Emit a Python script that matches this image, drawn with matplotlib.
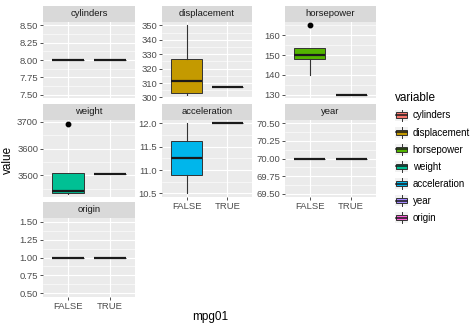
import numpy as np
import matplotlib.pyplot as plt
from matplotlib.patches import Rectangle, Patch
from matplotlib.lines import Line2D
from matplotlib.ticker import FixedLocator, AutoMinorLocator, ScalarFormatter
from matplotlib.legend_handler import HandlerBase

plt.rcParams['font.family'] = ['Liberation Sans', 'DejaVu Sans']

W, H = 474, 328

variables = ['cylinders', 'displacement', 'horsepower', 'weight',
             'acceleration', 'year', 'origin']
colors = ['#F8766D', '#C49A00', '#53B400', '#00C094', '#00B6EB', '#A58AFF', '#FB61D7']
groups = ['FALSE', 'TRUE']

# box stats for mpg01 == FALSE
false_low = [8, 302, 140, 3433, 10.5, 70, 1]
false_q1 = [8, 303.3, 148, 3436, 10.89, 70, 1]
false_med = [8, 311.5, 150, 3443, 11.25, 70, 1]
false_q3 = [8, 326.8, 153.6, 3511, 11.62, 70, 1]
false_high = [8, 350, 153.6, 3511, 12.0, 70, 1]
false_out = [[], [], [165], [3693], [], [], []]
# mpg01 == TRUE is a single car
true_val = [8, 307.3, 130, 3504, 12.0, 70, 1]

yticks = [[7.5, 7.75, 8, 8.25, 8.5],
          [300, 310, 320, 330, 340, 350],
          [130, 140, 150, 160],
          [3500, 3600, 3700],
          [10.5, 11, 11.5, 12],
          [69.5, 69.75, 70, 70.25, 70.5],
          [0.5, 0.75, 1, 1.25, 1.5]]

# panel layout in pixels
col_lr = [(43, 135), (162, 252), (285, 376)]
row_tb = [(22, 98), (120, 197), (218, 297)]
strip_h = 16
bottom_panels = [4, 5, 6]

fig = plt.figure(figsize=(W / 100, H / 100), dpi=100)

for i, var in enumerate(variables):
    r, c = divmod(i, 3)
    l, rr = col_lr[c]
    t, b = row_tb[r]
    ax = fig.add_axes([l / W, 1 - b / H, (rr - l) / W, (b - t) / H])
    ax.set_facecolor('#EBEBEB')
    for s in ax.spines.values():
        s.set_visible(False)

    stats = [dict(whislo=false_low[i], q1=false_q1[i], med=false_med[i],
                  q3=false_q3[i], whishi=false_high[i], fliers=false_out[i]),
             dict(whislo=true_val[i], q1=true_val[i], med=true_val[i],
                  q3=true_val[i], whishi=true_val[i], fliers=[])]
    ax.bxp(stats, positions=[1, 2], widths=0.75, patch_artist=True,
           showcaps=False, manage_ticks=False,
           boxprops=dict(facecolor=colors[i], edgecolor='#333333', lw=0.7),
           medianprops=dict(color='#1A1A1A', lw=1.6, solid_capstyle='butt'),
           whiskerprops=dict(color='#333333', lw=0.8),
           flierprops=dict(marker='o', markersize=3.2, markerfacecolor='black',
                           markeredgecolor='black'))

    vals = [false_low[i], false_high[i], true_val[i]] + false_out[i]
    lo, hi = min(vals), max(vals)
    if lo == hi:
        lo, hi = lo - 0.5, hi + 0.5
    pad = (hi - lo) * 0.05
    ax.set_ylim(lo - pad, hi + pad)
    ax.set_xlim(0.4, 2.6)

    ax.yaxis.set_major_locator(FixedLocator(yticks[i]))
    ax.yaxis.set_minor_locator(AutoMinorLocator(2))
    ax.yaxis.set_major_formatter(ScalarFormatter(useOffset=False))
    ax.set_xticks([1, 2])
    ax.set_axisbelow(True)
    ax.grid(which='major', color='white', lw=0.8)
    ax.grid(which='minor', axis='y', color='white', lw=0.4)
    ax.tick_params(which='major', length=2, width=0.6, color='#333333',
                   labelsize=6.8, labelcolor='#4D4D4D', pad=1.5)
    ax.tick_params(which='minor', length=0)
    if i in bottom_panels:
        ax.set_xticklabels(groups)
    else:
        ax.tick_params(axis='x', which='both', length=0, labelbottom=False)

    sh = strip_h / (b - t)
    ax.add_patch(Rectangle((0, 1), 1, sh, transform=ax.transAxes,
                           facecolor='#D9D9D9', edgecolor='none', clip_on=False))
    ax.text(0.5, 1 + sh / 2, var, transform=ax.transAxes, ha='center',
            va='center', fontsize=6.8, color='#1A1A1A')

fig.text(8 / W, 1 - 160 / H, 'value', rotation=90, ha='center', va='center',
         fontsize=8.5, color='black')
fig.text(210 / W, 1 - 317 / H, 'mpg01', ha='center', va='center',
         fontsize=8.5, color='black')


class BoxKey(HandlerBase):
    def create_artists(self, legend, orig, xd, yd, w, h, fontsize, trans):
        x0, y0 = -xd, -yd
        bg = Rectangle((x0, y0), w, h, facecolor='#F2F2F2', edgecolor='none',
                       transform=trans)
        cx = x0 + w / 2
        wl = Line2D([cx, cx], [y0, y0 + h], color='#333333', lw=0.7, transform=trans)
        box = Rectangle((x0 + 0.1 * w, y0 + 0.25 * h), 0.8 * w, 0.5 * h,
                        facecolor=orig.get_facecolor(), edgecolor='#333333',
                        lw=0.7, transform=trans)
        med = Line2D([x0 + 0.1 * w, x0 + 0.9 * w], [y0 + 0.5 * h] * 2,
                     color='#1A1A1A', lw=1.1, transform=trans)
        return [bg, wl, box, med]


handles = [Patch(facecolor=c) for c in colors]
fig.legend(handles, variables, loc='upper left',
           bbox_to_anchor=(388 / W, 1 - 85 / H), frameon=False,
           title='variable', title_fontsize=8.5, fontsize=7,
           alignment='left', handlelength=1.4, handleheight=1.4,
           handletextpad=0.45, labelspacing=0.6, borderpad=0.2,
           handler_map={Patch: BoxKey()})

fig.savefig('out.png', dpi=100)
